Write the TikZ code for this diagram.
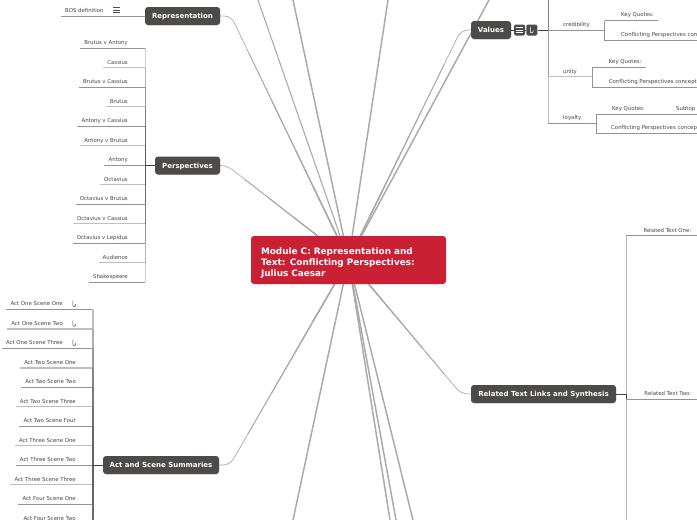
\documentclass[tikz,border=0pt]{standalone}
\usepackage{fontspec}
\setmainfont{DejaVu Sans}
\usetikzlibrary{positioning, backgrounds, calc, shadows}
\definecolor{mapred}{HTML}{C92033}
\definecolor{topicgray}{HTML}{4D4B49}
\definecolor{linkgray}{HTML}{ABABAB}
\definecolor{labelgray}{HTML}{444444}
\begin{document}
\begin{tikzpicture}[
        x=1pt, y=-1pt,
        topic/.style={draw=none, fill=topicgray, rounded corners=3pt, text=white, inner sep=0pt,
                      minimum height=18pt, text height=7pt, text depth=1.3pt,
                      font=\fontsize{7}{8}\bfseries\selectfont,
                      drop shadow={opacity=0.25, shadow xshift=0.4pt, shadow yshift=-0.6pt}},
        root/.style={fill=mapred, rounded corners=3pt, text=white, inner sep=0pt, align=left,
                     minimum width=195pt, minimum height=48pt, text width=175pt,
                     font=\fontsize{8.9}{11}\bfseries\selectfont},
        leaf/.style={inner xsep=4pt, inner ysep=2.5pt, text height=4pt, text depth=1pt,
                     text=labelgray, font=\fontsize{5.4}{6}\selectfont},
        iconbox/.style={fill=topicgray, rounded corners=1.5pt, minimum size=11pt, inner sep=0pt},
        link/.style={linkgray, line width=1.5pt},
        curvelink/.style={linkgray, line width=0.7pt, rounded corners=7pt},
        uthin/.style={black!42, line width=0.8pt},
        uthick/.style={black!25, line width=1.4pt},
        stem/.style={black!75, line width=0.9pt},
        pics/menu/.style={code={\draw[#1, line width=0.5pt] (-3.2,-2.4) -- (3.2,-2.4) (-3.2,0) -- (3.2,0) (-3.2,2.4) -- (3.2,2.4);}},
        pics/menu/.default=black!70,
        pics/hook/.style={code={\draw[#1, line width=0.5pt] (-1.6,-3.2) -- (-1.6,1.6) -- (-1.2,2.6) -- (0.4,2.8) -- (1.2,1.6) -- (1.2,0.4);}},
        pics/hook/.default=black!70,
    ]
    \useasboundingbox (0,0) rectangle (697,520);

    % Central topic and main branches
    \node[root] (central) at (348.5,260) {\rule{0pt}{12pt}Module C: Representation and\\Text: Conflicting Perspectives:\\Julius Caesar};
    \node[topic, minimum width=75pt] (repr) at (182.5,16) {Representation};
    \node[topic, minimum width=65pt] (persp) at (187.5,165.5) {Perspectives};
    \node[topic, minimum width=116pt] (acts) at (161,465) {Act and Scene Summaries};
    \node[topic, minimum width=40pt] (values) at (491,30) {Values};
    \node[topic, minimum width=145pt] (related) at (543.5,394) {Related Text Links and Synthesis};
    \node[iconbox] (valmenu) at (519.5,30) {};
    \node[iconbox, right=1pt of valmenu] (valhook) {};
    \pic at (valmenu) {menu=white};
    \pic at (valhook) {hook=white};

    % Corners of the curved links
    \coordinate (reprc) at (231,16);
    \coordinate (perspc) at (227,165.5);
    \coordinate (actsc) at (230,465);
    \coordinate (valuesc) at (461,30);
    \coordinate (relatedc) at (461,394);
    % Free ends of the branches that leave the picture
    \coordinate (top1) at (258,0);
    \coordinate (top2) at (293,0);
    \coordinate (top3) at (388,0);
    \coordinate (top4) at (489,0);
    \coordinate (bot1) at (293,520);
    \coordinate (bot2) at (390,520);
    \coordinate (bot3) at (396,520);
    \coordinate (bot4) at (413,520);

    \begin{scope}[on background layer]
        \foreach \e in {top2, top3, top4, bot1, bot2, bot3, bot4} {
            \draw[link] (central.center) -- (\e);
        }
        \draw[link, line width=1.1pt] (central.center) -- (top1);
        \draw[curvelink] (central.center) -- (reprc) -- (repr.east);
        \draw[curvelink] (central.center) -- (perspc) -- (persp.east);
        \draw[curvelink] (central.center) -- (actsc) -- (acts.east);
        \draw[curvelink] (central.center) -- (valuesc) -- (values.west);
        \draw[curvelink] (central.center) -- (relatedc) -- (related.west);
        % Links get thinner away from the centre
        \foreach \c in {reprc, perspc, actsc, valuesc, relatedc} {
            \foreach \f/\w in {0.85/0.85pt, 0.65/1pt, 0.45/1.2pt, 0.3/1.4pt} {
                \draw[linkgray, line width=\w] (central.center) -- ($(central.center)!\f!(\c)$);
            }
        }
    \end{scope}

    % Representation
    \node[leaf, anchor=south west] (bos) at (61,16) {BOS definition};
    \pic at (116.5,10) {menu};
    \draw[uthin] (bos.south west) -- (repr.west);

    % Perspectives
    \coordinate (pspine) at (145,0);
    \foreach \i/\y/\txt/\und in {
        1/48/Brutus v Antony/uthin, 2/67.7/Cassius/uthick, 3/87.3/Brutus v Cassius/uthin,
        4/106.7/Brutus/uthick, 5/126.3/Antony v Cassius/uthin, 6/145.7/Antony v Brutus/uthick,
        7/165.3/Antony/uthin, 8/184.7/Octavius/uthick, 9/204.3/Octavius v Brutus/uthin,
        10/223.7/Octavius v Cassius/uthick, 11/243.3/Octavius v Lepidus/uthin,
        12/262.7/Audience/uthick, 13/282.3/Shakespeare/uthin} {
        \node[leaf, anchor=south east] (p\i) at (132,\y) {\txt};
        \draw[\und] (p\i.south west) -- (p\i.south west -| pspine);
    }
    \foreach \a/\b/\s in {1/2/20, 2/3/30, 3/4/40, 4/5/50, 5/6/58, 6/7/65, 7/8/65, 8/9/58, 9/10/50, 10/11/40, 11/12/30, 12/13/20} {
        \draw[black!\s, line width=0.9pt] (p\a.south west -| pspine) -- (p\b.south west -| pspine);
    }
    \draw[stem] (persp.west) -- (persp.west -| pspine);

    % Act and Scene Summaries
    \coordinate (aspine) at (93,0);
    \foreach \i/\y/\txt/\und in {
        1/309.3/Act One Scene One/uthin, 2/329/Act One Scene Two/uthick, 3/348.3/Act One Scene Three/uthin} {
        \node[leaf, anchor=south east] (a\i) at (67,\y) {\txt};
        \draw[\und] (a\i.south west) -- (a\i.south west -| aspine);
        \pic at (74.5,\y-5.5) {hook};
    }
    \foreach \i/\y/\txt/\und in {
        4/368/Act Two Scene One/uthick, 5/387.3/Act Two Scene Two/uthin, 6/406.7/Act Two Scene Three/uthick,
        7/426.3/Act Two Scene Four/uthin, 8/445.7/Act Three Scene One/uthick, 9/465.3/Act Three Scene Two/uthin,
        10/484.7/Act Three Scene Three/uthick, 11/504.3/Act Four Scene One/uthin, 12/523.7/Act Four Scene Two/uthick} {
        \node[leaf, anchor=south east] (a\i) at (80,\y) {\txt};
        \draw[\und] (a\i.south west) -- (a\i.south west -| aspine);
    }
    \foreach \a/\b/\s in {1/2/25, 2/3/32, 3/4/40, 4/5/48, 5/6/52, 6/7/56, 7/8/60, 8/9/62, 9/10/62, 10/11/60, 11/12/58} {
        \draw[black!\s, line width=1.1pt] (a\a.south west -| aspine) -- (a\b.south west -| aspine);
    }
    \draw[stem] (acts.west) -- (acts.west -| aspine);

    % Values
    \coordinate (vspine) at (548,0);
    \draw[stem] (values.east) -- (valmenu.west);
    \draw[stem] (valmenu.east) -- (valhook.west);
    \draw[stem] (valhook.east) -- (valhook.east -| vspine);
    \draw[black!50, line width=0.9pt] (548,0) -- (548,30);
    \draw[black!38, line width=0.9pt] (548,30) -- (548,77);
    \draw[black!25, line width=0.9pt] (548,77) -- (548,123.3);
    \node[leaf, anchor=south west] (cred) at (559,30) {credibility};
    \node[leaf, anchor=south west] (unity) at (559,76.7) {unity};
    \node[leaf, anchor=south west] (loyal) at (559,123.3) {loyalty};
    \node[leaf, anchor=south west] (credkq) at (617,20.5) {Key Quotes:};
    \node[leaf, anchor=south west] (credcp) at (617,40) {Conflicting Perspectives con};
    \node[leaf, anchor=south west] (unitykq) at (604.7,67) {Key Quotes:};
    \node[leaf, anchor=south west] (unitycp) at (604.7,87) {Conflicting Perspectives concept};
    \node[leaf, anchor=south west] (loyalkq) at (608,114) {Key Quotes:};
    \node[leaf, anchor=south west] (loyalsub) at (672,114) {Subtop};
    \node[leaf, anchor=south west] (loyalcp) at (607,133) {Conflicting Perspectives concep};

    \coordinate (credsp) at (604.7,0);
    \coordinate (unitysp) at (592,0);
    \coordinate (loyalsp) at (596.5,0);
    \coordinate (redge) at (697,0);
    \draw[uthin] (cred.south west -| vspine) -- (cred.south west -| credsp);
    \draw[uthick] (unity.south west -| vspine) -- (unity.south west -| unitysp);
    \draw[uthin] (loyal.south west -| vspine) -- (loyal.south west -| loyalsp);
    \draw[uthin] (credsp |- credkq.south) -- (credkq.south east);
    \draw[uthin] (credsp |- credkq.south) -- (credsp |- credcp.south) -- (credcp.south -| redge);
    \draw[uthin] (unitysp |- unitykq.south) -- (unitysp |- unitycp.south) -- (unitycp.south -| redge);
    \draw[uthin] (unitysp |- unitykq.south) -- (unitykq.south east);
    \draw[uthin] (loyalsp |- loyalkq.south) -- (loyalkq.south -| redge);
    \draw[uthin] (loyalsp |- loyalkq.south) -- (loyalsp |- loyalcp.south) -- (loyalcp.south -| redge);

    % Related Text Links and Synthesis
    \coordinate (rspine) at (626,0);
    \node[leaf, anchor=south east] (relone) at (695.5,235.7) {Related Text One:};
    \node[leaf, anchor=south east] (reltwo) at (695.5,399) {Related Text Two:};
    \coordinate (relend) at (626,520);
    \draw[black!30, line width=0.9pt] (rspine |- relone.south) -- (relend);
    \draw[uthin] (rspine |- relone.south) -- (relone.south -| redge);
    \draw[uthin] (rspine |- reltwo.south) -- (reltwo.south -| redge);
    \draw[stem] (related.east) -- (related.east -| rspine) -- (rspine |- reltwo.south);
\end{tikzpicture}
\end{document}
